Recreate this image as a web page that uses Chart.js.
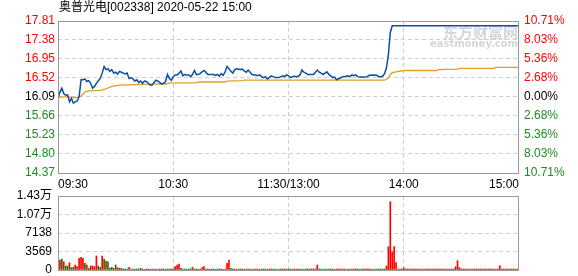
<!DOCTYPE html>
<html><head><meta charset="utf-8">
<script src="https://cdn.jsdelivr.net/npm/chart.js@4.4.1/dist/chart.umd.min.js"></script>
<style>
html,body{margin:0;padding:0;background:#fff;width:578px;height:276px;overflow:hidden}
#title{position:absolute;left:59px;top:0px;font:12px "Liberation Sans","Noto Sans CJK SC",sans-serif;color:#000;line-height:15px;white-space:pre}
canvas{position:absolute;left:0;top:0;display:block}
</style></head><body>
<canvas id="c1" width="578" height="276"></canvas>
<canvas id="c2" width="578" height="276"></canvas>
<div id="title"></div>
<script>
// ---------- data ----------
const titleText = '奥普光电[002338] 2020-05-22 15:00';
const prevClose = 16.09;
const priceTicks = [14.37,14.80,15.23,15.66,16.09,16.52,16.95,17.38,17.81];
const pctLabels = ['10.71%','8.03%','5.36%','2.68%','0.00%','2.68%','5.36%','8.03%','10.71%'];
const timeTicks = [0,60,120,180,240];
const timeLabels = ['09:30','10:30','11:30/13:00','14:00','15:00'];
const volTicks = [0,3569,7138,10707,14276];
const volLabels = ['0','3569','7138','1.07万','1.43万'];
const watermark = ['东方财富网','eastmoney.com'];

// minute-by-minute price, minute 0..174
const prices = [
16.06,16.20,16.29,16.17,16.13,16.14,15.98,16.06,15.95,15.98,
16.00,16.10,16.48,16.48,16.50,16.44,16.46,16.40,16.29,16.33,
16.40,16.46,16.51,16.63,16.78,16.71,16.73,16.67,16.71,16.63,
16.65,16.61,16.67,16.65,16.63,16.61,16.63,16.51,16.53,16.50,
16.45,16.48,16.42,16.45,16.40,16.45,16.44,16.40,16.36,16.36,
16.42,16.47,16.45,16.42,16.38,16.40,16.44,16.60,16.51,16.47,
16.55,16.59,16.59,16.63,16.68,16.57,16.60,16.59,16.59,16.55,
16.60,16.69,16.60,16.60,16.62,16.66,16.69,16.65,16.60,16.60,
16.60,16.60,16.58,16.60,16.56,16.62,16.58,16.66,16.78,16.73,
16.67,16.63,16.71,16.73,16.72,16.71,16.72,16.68,16.65,16.70,
16.65,16.60,16.59,16.59,16.57,16.59,16.55,16.53,16.55,16.50,
16.53,16.57,16.55,16.53,16.53,16.53,16.55,16.57,16.55,16.59,
16.57,16.53,16.55,16.56,16.55,16.56,16.59,16.70,16.65,16.63,
16.60,16.60,16.60,16.60,16.65,16.70,16.65,16.63,16.60,16.63,
16.66,16.60,16.57,16.53,16.54,16.48,16.50,16.52,16.55,16.55,
16.56,16.57,16.55,16.59,16.57,16.59,16.55,16.54,16.54,16.54,
16.54,16.55,16.58,16.58,16.59,16.58,16.58,16.55,16.55,16.56,
16.62,16.75,17.05,17.55,17.70];
// price stays at limit-up until the close
const closeMinute = 240;
const closePrice = 17.70;

// average price line
const avgTimes  = [0,5,9,12,14,16,22,24,28,32,40,48,57,58,72,73,87,88,96,97,170,172,173,174,176,180,197,198,208,209,227,228,240];
const avgValues = [16.08,16.10,16.07,16.11,16.20,16.23,16.24,16.26,16.33,16.36,16.37,16.38,16.39,16.41,16.41,16.43,16.43,16.45,16.46,16.47,16.47,16.52,16.60,16.64,16.66,16.69,16.69,16.71,16.72,16.74,16.74,16.76,16.76];

// minute volume, minute 0..240
const volumes = [
2250,1930,2120,1600,770,770,1410,450,515,965,640,2250,2450,2250,1290,965,320,770,770,640,
2700,770,515,2700,2120,1740,1600,320,515,320,965,450,320,320,190,190,190,515,190,190,
190,190,190,320,190,130,190,190,130,190,190,190,130,190,190,190,130,190,190,190,
190,640,965,1150,320,190,190,130,190,190,515,190,190,130,190,450,640,190,190,130,
190,190,130,190,190,190,130,190,1290,1930,320,190,190,130,190,190,190,130,190,190,
190,130,190,190,190,130,190,190,190,130,190,190,190,190,130,190,190,190,190,190,
190,190,130,190,190,190,190,190,130,190,190,190,190,190,190,965,190,190,130,190,
190,190,190,190,130,190,190,190,190,190,130,190,190,190,190,190,190,130,190,190,
190,190,190,190,130,190,190,190,190,190,190,770,4500,13180,3530,4500,1410,190,190,190,
450,190,190,190,190,190,190,190,190,190,190,190,190,190,190,190,190,190,190,190,
190,190,190,190,190,190,190,640,1800,450,190,190,190,190,190,190,190,190,190,190,
190,190,190,190,190,190,190,190,190,190,830,190,190,190,190,190,190,190,190,190,190];
// u = up minute, d = down minute
const volDir = [
'uudud','duddu','uuuud','uduuu',
'uduud','udddu','duudd','ddudu',
'ddudu','dduud','uddud','duudd',
'duuud','ududd','uddud','uudud',
'ddudu','dduuu','ddudd','ududd',
'udduu','ddudd','uuddu','dduud',
'ddduu','uuuud','dduuu','udddd',
'dddud','uuuuu','uuudu','ddduu',
'uuuuu','ddddd','duuuu','uuuuu',
'uuuuuuuuuuuuuuuuuuuuuuuuuuuuuuuuuuuuuuuuuuuuuuuuuuuuuuuuuuuuu'].join('');

// ---------- drawing ----------
document.getElementById('title').textContent = titleText;
const FONT = "'Liberation Sans','Noto Sans CJK SC',sans-serif";
Chart.defaults.font.family = FONT;
Chart.defaults.font.size = 12;
Chart.defaults.color = '#000';
const RED = '#ff0000', GREEN = '#1e8c1e', GRID = '#cfcfcf', FRAME = '#999';
function sideColor(v){ return v > prevClose + 1e-6 ? RED : (v < prevClose - 1e-6 ? GREEN : '#000'); }
const noVPad = s => { s.paddingTop = 0; s.paddingBottom = 0; };
const noHPad = s => { s.paddingLeft = 0; s.paddingRight = 0; };

const framePlugin = {
  id:'frame',
  afterDraw(chart){
    const a = chart.chartArea, ctx = chart.ctx;
    ctx.save();
    ctx.strokeStyle = FRAME; ctx.lineWidth = 1;
    ctx.strokeRect(Math.round(a.left)+0.5, Math.round(a.top)+0.5, Math.round(a.right-a.left)-1, Math.round(a.bottom-a.top));
    ctx.restore();
  }
};
const wmPlugin = {
  id:'wm',
  beforeDatasetsDraw(chart){
    const ctx = chart.ctx, a = chart.chartArea;
    ctx.save();
    ctx.fillStyle = '#d6d6d6';
    ctx.textAlign = 'right'; ctx.textBaseline = 'alphabetic';
    ctx.font = "bold 15px 'Noto Sans CJK SC',sans-serif";
    ctx.fillText(watermark[0], a.right - 1, 38);
    ctx.font = "bold 10px 'DejaVu Sans',sans-serif";
    ctx.fillText(watermark[1], a.right - 1, 47);
    ctx.restore();
  }
};

const gridColor = (min,max) => (c) => {
  const v = c.tick ? c.tick.value : null;
  return (v === null || Math.abs(v-min) < 1e-6 || Math.abs(v-max) < 1e-6) ? 'rgba(0,0,0,0)' : GRID;
};

const priceData = prices.map((p,i)=>({x:i,y:p}));
priceData.push({x:closeMinute,y:closePrice});
const avgData = avgTimes.map((t,i)=>({x:t,y:avgValues[i]}));

// price panel: chart area 58..519 x 21..173
new Chart(document.getElementById('c1'), {
  type:'line',
  data:{datasets:[
    {data:priceData, borderColor:'#0b4f9e', borderWidth:1.5, pointRadius:0, tension:0, fill:false},
    {data:avgData, borderColor:'#e0a024', borderWidth:1.3, pointRadius:0, tension:0, fill:false}
  ]},
  options:{
    responsive:false, animation:false, events:[],
    layout:{padding:{top:21,left:0,right:0,bottom:86}},
    plugins:{legend:{display:false}, tooltip:{enabled:false}},
    scales:{
      x:{type:'linear', min:0, max:240,
        afterBuildTicks:s=>{s.ticks = timeTicks.map(v=>({value:v}));},
        afterFit:s=>{s.height = 17; noHPad(s);},
        ticks:{autoSkip:false, maxRotation:0, align:'inner', padding:4, color:'#000',
          callback:(v)=>timeLabels[timeTicks.indexOf(v)]},
        grid:{drawTicks:false, color:gridColor(0,240), lineWidth:1},
        border:{display:false, dash:[4,3]}
      },
      y:{type:'linear', position:'left', min:14.37, max:17.81,
        afterBuildTicks:s=>{s.ticks = priceTicks.map(v=>({value:v}));},
        afterFit:s=>{s.width = 58; noVPad(s);},
        ticks:{padding:3, color:(c)=>sideColor(c.tick.value),
          callback:(v)=>v.toFixed(2)},
        grid:{drawTicks:false, color:gridColor(14.37,17.81), lineWidth:1},
        border:{display:false, dash:[4,3]}
      },
      y2:{type:'linear', position:'right', min:14.37, max:17.81,
        afterBuildTicks:s=>{s.ticks = priceTicks.map(v=>({value:v}));},
        afterFit:s=>{s.width = 59; noVPad(s);},
        ticks:{padding:5, color:(c)=>sideColor(c.tick.value),
          callback:(v)=>pctLabels[pctLabels.length-1-priceTicks.findIndex(t=>Math.abs(t-v)<1e-6)]},
        grid:{display:false, drawTicks:false},
        border:{display:false}
      }
    }
  },
  plugins:[framePlugin, wmPlugin]
});

const volData = volumes.map((v,i)=>({x:i,y:v}));
const volColors = volumes.map((v,i)=> volDir[i] === 'd' ? '#008000' : RED);

// volume panel: chart area 58..519 x 196..270
new Chart(document.getElementById('c2'), {
  type:'bar',
  data:{datasets:[{data:volData, backgroundColor:volColors, barThickness:1, borderWidth:0}]},
  options:{
    responsive:false, animation:false, events:[],
    layout:{padding:{top:196,left:0,right:59,bottom:0}},
    plugins:{legend:{display:false}, tooltip:{enabled:false}},
    scales:{
      x:{type:'linear', min:0, max:240, offset:false,
        afterBuildTicks:s=>{s.ticks = timeTicks.map(v=>({value:v}));},
        afterFit:s=>{s.height = 6; noHPad(s);},
        ticks:{display:false},
        grid:{drawTicks:false, color:gridColor(0,240), lineWidth:1, offset:false},
        border:{display:false, dash:[4,3]}
      },
      y:{type:'linear', min:0, max:14276,
        afterBuildTicks:s=>{s.ticks = volTicks.map(v=>({value:v}));},
        afterFit:s=>{s.width = 58; noVPad(s);},
        ticks:{padding:6, color:'#000',
          callback:(v)=>volLabels[volTicks.indexOf(v)]},
        grid:{drawTicks:false, color:gridColor(0,14276), lineWidth:1},
        border:{display:false, dash:[4,3]}
      }
    }
  },
  plugins:[framePlugin]
});
</script>
</body></html>
